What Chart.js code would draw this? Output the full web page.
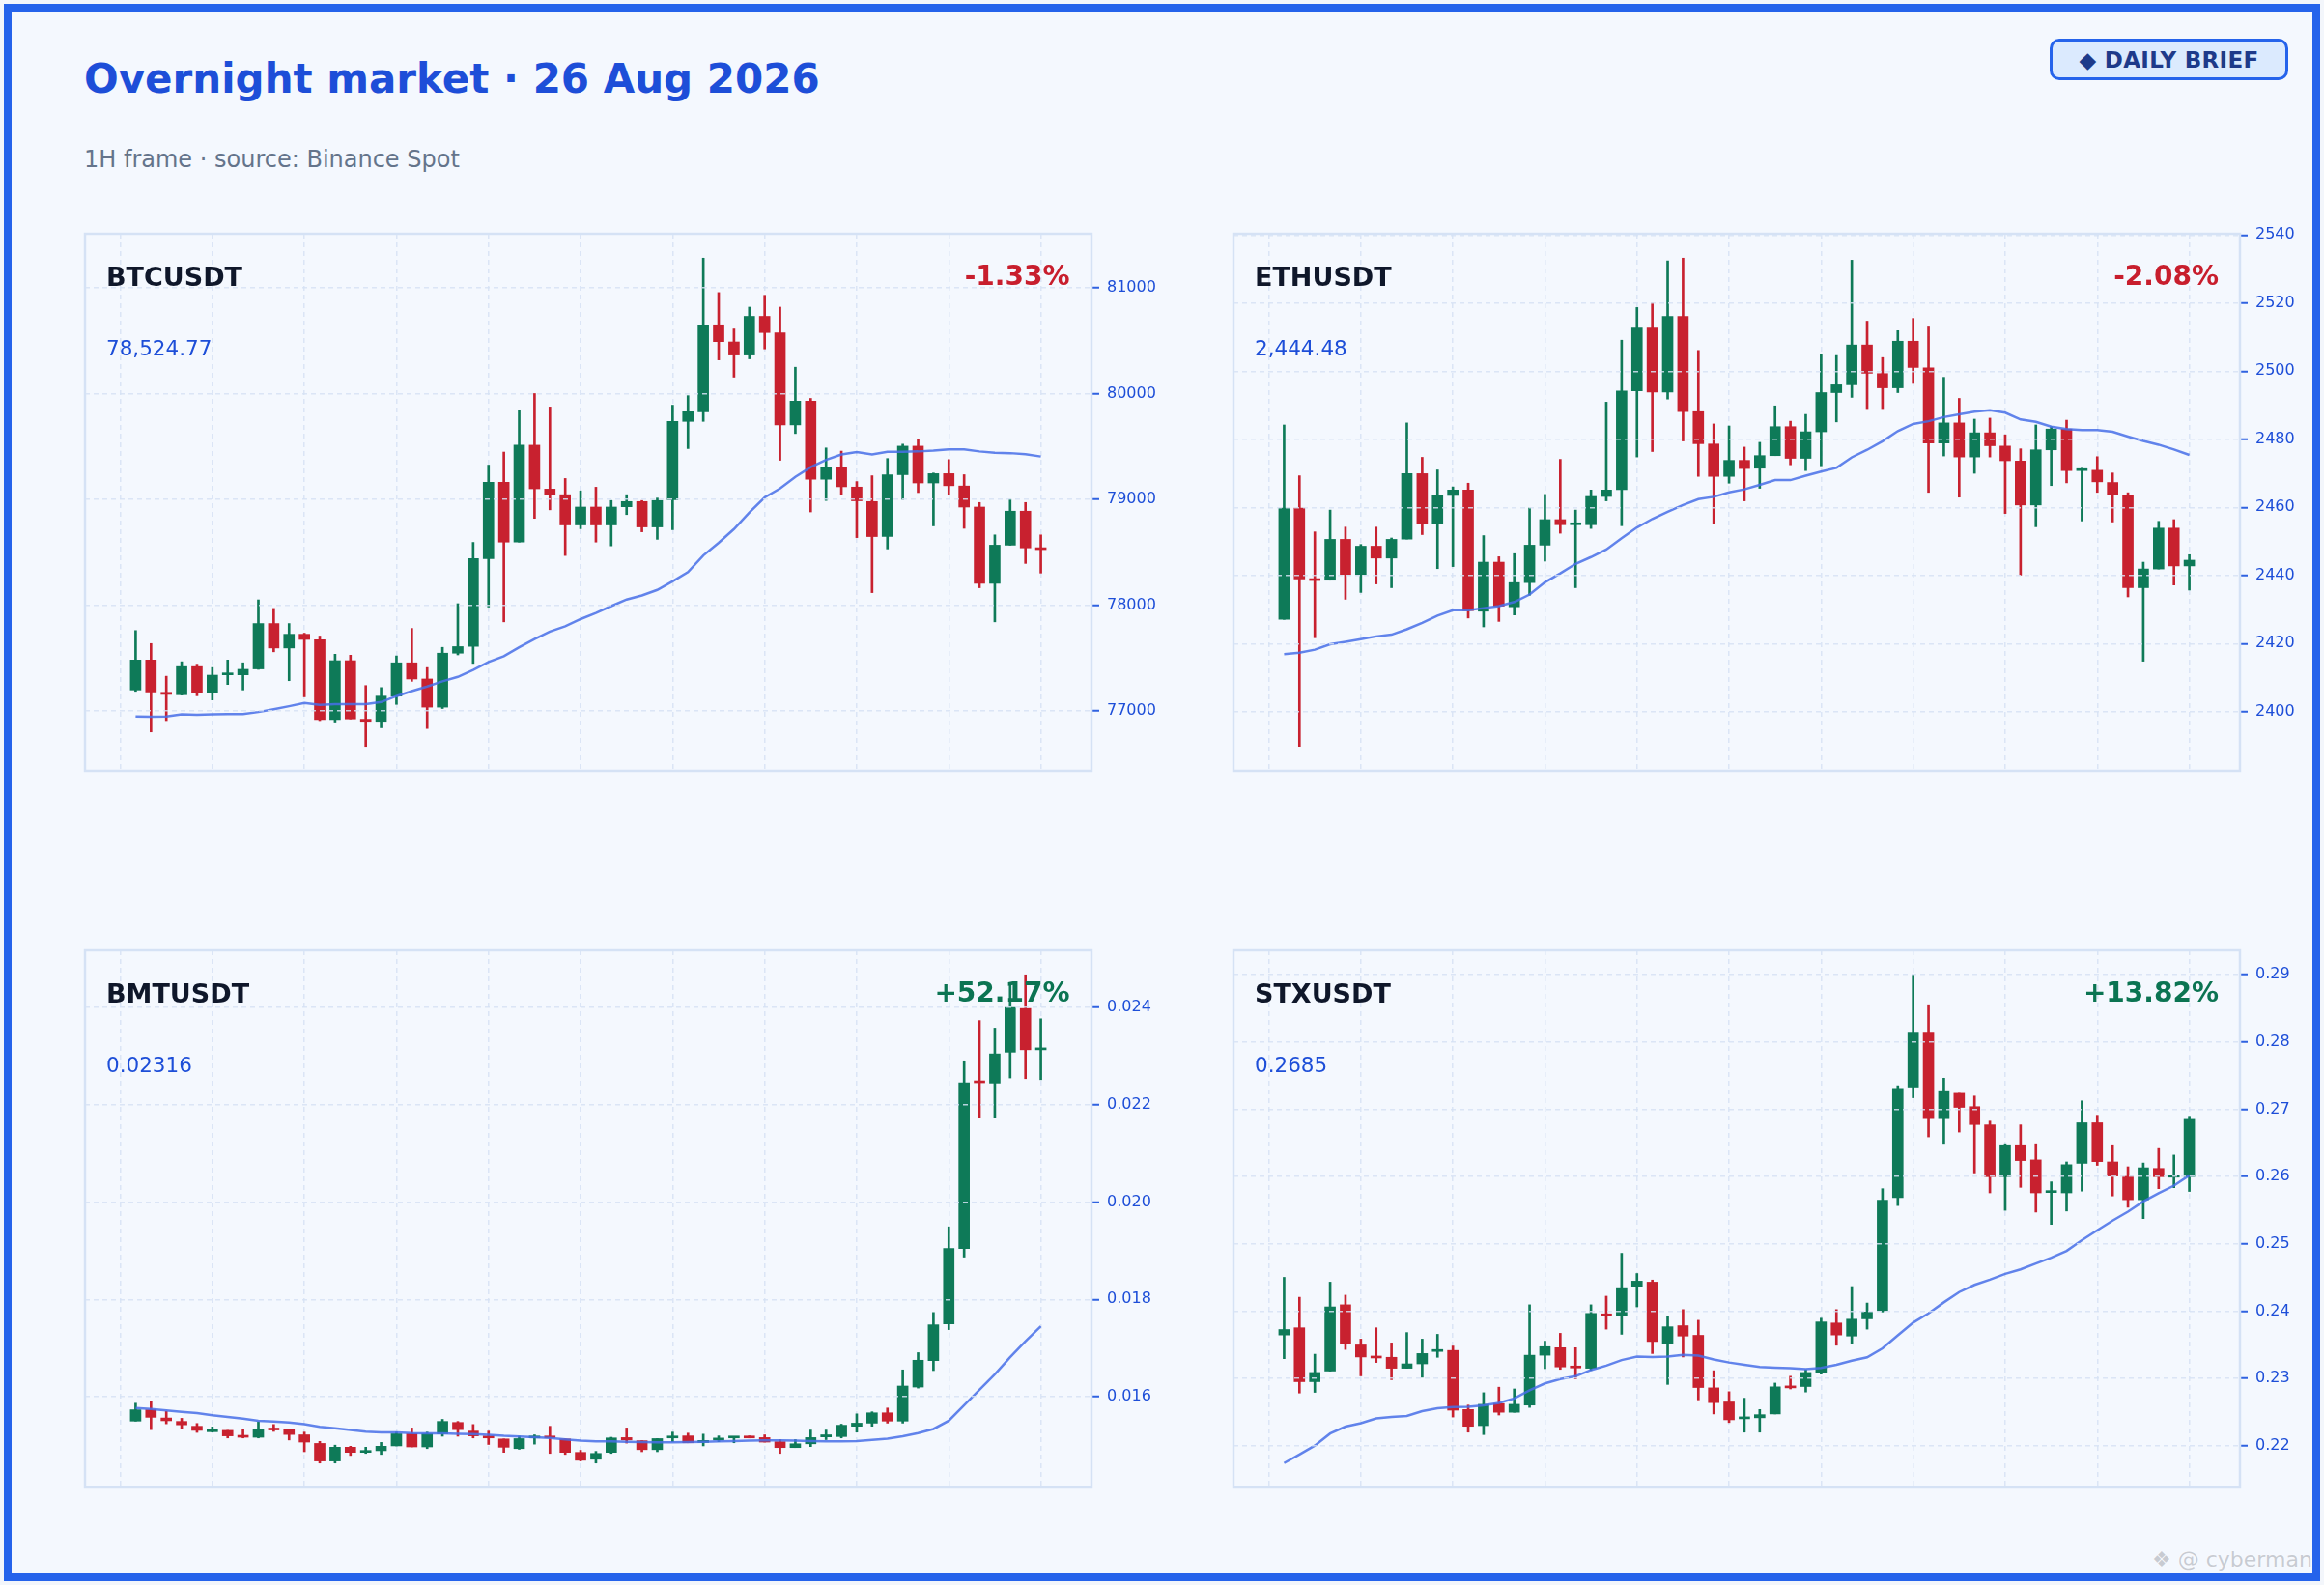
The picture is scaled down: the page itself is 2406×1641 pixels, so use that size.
<!DOCTYPE html>
<html><head><meta charset="utf-8">
<script src="https://cdn.jsdelivr.net/npm/chart.js@4.4.1/dist/chart.umd.min.js"></script>
<style>
html,body{margin:0;padding:0;background:#f3f6fb;width:2406px;height:1641px;overflow:hidden;font-family:"DejaVu Sans",sans-serif;}
#frame{position:absolute;left:4px;top:4px;width:2398px;height:1633px;box-sizing:border-box;border:8px solid #2563eb;background:#f4f8fe;}
.abs{position:absolute;white-space:nowrap;line-height:1;}
.title{font-weight:bold;font-size:42px;color:#1d4ed8;}
.sub{font-size:24px;color:#64748b;}
.badge{position:absolute;left:2122px;top:40px;width:247px;height:43px;box-sizing:border-box;border:3px solid #2563eb;border-radius:10px;background:#dbeafe;color:#1e3a8a;font-weight:bold;font-size:23px;display:flex;align-items:center;justify-content:center;letter-spacing:0.3px;}
.sym{font-weight:bold;font-size:27px;color:#0f172a;}
.price{font-size:21.5px;color:#1d4ed8;}
.pct{font-weight:bold;font-size:28px;}
.wm{font-size:22px;color:rgba(190,194,202,0.85);text-shadow:0 0 2px #fff;}
canvas{display:block;}
</style></head>
<body>
<div id="frame"></div>
<div class="abs title" style="left:87px;top:60.5px;">Overnight market · 26 Aug 2026</div>
<div class="abs sub" style="left:87px;top:152.7px;">1H frame · source: Binance Spot</div>
<div class="badge">◆ DAILY BRIEF</div>

<div class="abs" style="left:85px;top:218px;"><canvas id="cv0"></canvas></div>
<div class="abs" style="left:1274px;top:218px;"><canvas id="cv1"></canvas></div>
<div class="abs" style="left:85px;top:960px;"><canvas id="cv2"></canvas></div>
<div class="abs" style="left:1274px;top:960px;"><canvas id="cv3"></canvas></div>

<div class="abs sym" style="left:110px;top:273.2px;">BTCUSDT</div>
<div class="abs price" style="left:110px;top:350.4px;">78,524.77</div>
<div class="abs pct" style="right:1298.5px;top:272.3px;color:#c81e2d;">-1.33%</div>

<div class="abs sym" style="left:1299px;top:273.2px;">ETHUSDT</div>
<div class="abs price" style="left:1299px;top:350.4px;">2,444.48</div>
<div class="abs pct" style="right:109px;top:272.3px;color:#c81e2d;">-2.08%</div>

<div class="abs sym" style="left:110px;top:1015.2px;">BMTUSDT</div>
<div class="abs price" style="left:110px;top:1092.4px;">0.02316</div>
<div class="abs pct" style="right:1298.5px;top:1014.3px;color:#0b7452;">+52.17%</div>

<div class="abs sym" style="left:1299px;top:1015.2px;">STXUSDT</div>
<div class="abs price" style="left:1299px;top:1092.4px;">0.2685</div>
<div class="abs pct" style="right:109px;top:1014.3px;color:#0b7452;">+13.82%</div>

<div class="abs wm" style="left:2228px;top:1604px;">❖ @ cyberman</div>

<script>
// ---- categories (hourly candle index) ----
const candleIdx = [1,2,3,4,5,6,7,8,9,10,11,12,13,14,15,16,17,18,19,20,21,22,23,24,25,26,27,28,29,30,31,32,33,34,35,36,37,38,39,40,41,42,43,44,45,46,47,48,49,50,51,52,53,54,55,56,57,58,59,60];
const xGridTicks = [0,6,12,18,24,30,36,42,48,54,60];

// ---- BTCUSDT ----
const btcOpen = [77198,77481,77176,77153,77419,77169,77341,77341,77397,77826,77595,77725,77673,76919,77475,76922,76893,77140,77455,77302,77036,77546,77611,78440,79161,78596,79512,79097,79044,78758,78927,78758,78930,78979,78739,78996,79737,79828,80650,80488,80364,80730,80574,79704,79928,79190,79304,79116,78979,78648,79233,79503,79155,79243,79126,78927,78206,78567,78888,78535];
const btcClose = [77481,77179,77156,77419,77169,77338,77351,77393,77826,77595,77725,77676,76919,77475,76925,76893,77140,77455,77302,77036,77546,77608,78440,79161,78596,79512,79100,79047,78758,78927,78758,78927,78979,78739,78989,79737,79828,80650,80491,80364,80730,80577,79704,79928,79190,79304,79119,78986,78648,79233,79503,79155,79243,79129,78927,78206,78567,78888,78541,78524.77];
const btcHigh = [77760,77637,77328,77465,77442,77410,77481,77455,78050,77969,77826,77735,77708,77536,77527,77240,77221,77520,77780,77410,77601,78014,78593,79324,79447,79837,80000,79873,79197,79080,79115,78989,79044,78989,79012,79890,79980,81280,80955,80611,80817,80929,80817,80249,79954,79486,79456,79168,79223,79386,79522,79568,79249,79376,79233,78970,78664,78999,78970,78664];
const btcLow = [77185,76802,76909,77150,77143,77104,77250,77198,77393,77559,77286,77133,76909,76886,76925,76665,76841,77062,77280,76834,77023,77530,77449,77982,77842,78596,78820,78901,78469,78722,78596,78560,78856,78693,78622,78713,79480,79737,80318,80155,80328,80422,79369,79622,78881,78989,79044,78638,78118,78531,78999,79064,78749,79044,78726,78164,77842,78567,78394,78303];
const btcMA = [76948,76945,76948,76968,76964,76968,76971,76971,76990,77016,77045,77075,77058,77065,77065,77065,77084,77140,77188,77231,77280,77322,77387,77462,77517,77601,77679,77751,77800,77868,77926,77991,78053,78092,78144,78225,78313,78469,78589,78719,78875,79018,79103,79213,79304,79373,79424,79447,79424,79450,79450,79453,79460,79473,79473,79453,79440,79437,79427,79405];

// ---- ETHUSDT ----
const ethOpen = [2427.1,2459.8,2438.8,2438.6,2450.6,2440.3,2448.6,2445.1,2450.7,2469.9,2455.2,2463.5,2465.1,2429.5,2443.9,2430.8,2437.9,2448.9,2456.4,2454.9,2454.9,2463.2,2465.2,2494.2,2512.7,2493.9,2516.1,2488.1,2478.6,2469.1,2473.8,2471.5,2475.2,2483.7,2474.4,2482.2,2493.7,2496.0,2507.7,2499.3,2495.1,2508.8,2501.0,2478.9,2484.8,2474.8,2481.9,2478.0,2473.6,2460.7,2476.9,2483.0,2470.8,2470.9,2467.3,2463.4,2436.4,2441.9,2453.9,2442.8];
const ethClose = [2459.8,2439.0,2438.5,2450.6,2440.3,2448.6,2445.1,2450.6,2469.9,2455.2,2463.5,2465.1,2429.7,2443.9,2431.0,2437.9,2448.9,2456.4,2454.9,2455.2,2463.2,2465.1,2494.2,2512.7,2493.9,2516.1,2488.1,2478.7,2469.1,2473.8,2471.4,2475.2,2483.7,2474.4,2482.2,2493.7,2496.0,2507.7,2499.4,2495.1,2508.8,2501.1,2478.9,2484.8,2474.8,2481.9,2478.1,2473.7,2460.7,2476.9,2483.0,2470.8,2471.1,2467.5,2463.6,2436.4,2441.9,2453.9,2442.8,2444.48];
const ethHigh = [2484.2,2469.3,2452.8,2459.2,2454.2,2449.1,2454.2,2451.0,2484.8,2474.7,2471.0,2466.0,2467.1,2451.7,2445.5,2446.4,2459.8,2463.8,2474.1,2459.2,2465.1,2490.9,2509.1,2518.7,2520.0,2532.4,2533.2,2506.1,2484.5,2483.9,2477.7,2479.1,2489.8,2485.3,2487.3,2504.9,2504.6,2532.6,2514.7,2504.0,2511.9,2515.5,2513.0,2498.2,2492.0,2485.9,2486.2,2481.3,2477.2,2484.2,2483.7,2485.6,2471.5,2474.9,2470.1,2464.3,2443.9,2455.9,2456.4,2446.1];
const ethLow = [2427.1,2389.8,2421.7,2438.6,2433.0,2435.0,2437.5,2436.4,2450.7,2452.0,2442.0,2442.6,2427.5,2424.9,2426.5,2428.4,2434.2,2444.2,2452.4,2436.4,2453.8,2461.9,2454.6,2474.8,2476.4,2491.8,2479.5,2469.1,2455.2,2467.1,2461.9,2465.6,2475.2,2472.5,2470.8,2472.2,2485.1,2492.3,2489.0,2489.0,2493.7,2496.4,2464.4,2475.1,2463.0,2470.0,2474.8,2458.2,2440.1,2454.3,2466.4,2467.2,2456.0,2464.4,2455.7,2433.7,2414.8,2441.9,2437.2,2435.7];
const ethMA = [2416.9,2417.3,2418.2,2419.8,2420.5,2421.3,2422.1,2422.6,2424.2,2426.1,2428.2,2429.8,2429.8,2430.4,2431.0,2432.2,2434.4,2438.0,2440.6,2443.4,2445.4,2447.6,2450.9,2454.1,2456.6,2458.7,2460.7,2462.4,2463.1,2464.4,2465.3,2466.6,2468.0,2468.0,2469.3,2470.5,2471.6,2474.7,2476.9,2479.4,2482.4,2484.5,2485.3,2486.5,2487.3,2488.1,2488.5,2487.8,2485.8,2485.1,2483.7,2483.0,2482.7,2482.7,2482.2,2480.8,2479.5,2478.4,2477.0,2475.4];

// ---- BMTUSDT ----
const bmtOpen = [0.015498,0.015731,0.015562,0.015491,0.015392,0.015279,0.015307,0.015187,0.015166,0.015336,0.015329,0.015216,0.015039,0.014678,0.014961,0.014855,0.014890,0.014989,0.015237,0.014968,0.015237,0.015470,0.015293,0.015187,0.015131,0.014933,0.015152,0.015173,0.015131,0.014855,0.014714,0.014855,0.015159,0.015095,0.014912,0.015152,0.015194,0.015060,0.015110,0.015152,0.015173,0.015159,0.015074,0.014954,0.015032,0.015173,0.015180,0.015392,0.015456,0.015668,0.015498,0.016198,0.016742,0.017498,0.019046,0.022473,0.022445,0.023081,0.023979,0.023130];
const bmtClose = [0.015731,0.015576,0.015505,0.015421,0.015307,0.015300,0.015194,0.015166,0.015329,0.015315,0.015223,0.015067,0.014678,0.014961,0.014855,0.014876,0.014982,0.015237,0.014968,0.015237,0.015491,0.015322,0.015194,0.015152,0.014961,0.015138,0.015173,0.015152,0.014855,0.014693,0.014834,0.015152,0.015110,0.014912,0.015138,0.015173,0.015053,0.015081,0.015138,0.015173,0.015152,0.015067,0.014954,0.015032,0.015159,0.015216,0.015413,0.015456,0.015668,0.015498,0.016219,0.016749,0.017477,0.019046,0.022452,0.022452,0.023046,0.024000,0.023131,0.023160];
const bmtHigh = [0.015866,0.015908,0.015696,0.015555,0.015449,0.015378,0.015307,0.015329,0.015484,0.015428,0.015329,0.015272,0.015081,0.015004,0.014982,0.014961,0.015060,0.015272,0.015357,0.015272,0.015534,0.015491,0.015428,0.015293,0.015131,0.015187,0.015216,0.015392,0.015131,0.014898,0.014876,0.015166,0.015357,0.015095,0.015138,0.015272,0.015251,0.015230,0.015194,0.015173,0.015194,0.015216,0.015117,0.015117,0.015314,0.015314,0.015435,0.015647,0.015689,0.015767,0.016551,0.016905,0.017731,0.019491,0.022904,0.023731,0.023576,0.024509,0.024671,0.023767];
const bmtLow = [0.015498,0.015322,0.015442,0.015343,0.015265,0.015272,0.015152,0.015152,0.015152,0.015286,0.015110,0.014869,0.014636,0.014636,0.014792,0.014834,0.014813,0.014989,0.014968,0.014933,0.015187,0.015187,0.015152,0.015018,0.014855,0.014919,0.015025,0.014834,0.014813,0.014678,0.014636,0.014834,0.015046,0.014869,0.014869,0.015074,0.015053,0.014989,0.015074,0.015053,0.015152,0.015067,0.014834,0.014954,0.014975,0.015117,0.015152,0.015272,0.015392,0.015456,0.015456,0.016177,0.016537,0.017378,0.018869,0.021731,0.021731,0.022551,0.022537,0.022516];
const bmtMA = [0.015767,0.015746,0.015717,0.015689,0.015661,0.015618,0.015583,0.015548,0.015505,0.015491,0.015470,0.015435,0.015378,0.015350,0.015314,0.015279,0.015265,0.015265,0.015251,0.015244,0.015244,0.015237,0.015230,0.015216,0.015194,0.015180,0.015166,0.015152,0.015124,0.015095,0.015081,0.015081,0.015074,0.015067,0.015060,0.015060,0.015067,0.015074,0.015081,0.015088,0.015095,0.015103,0.015103,0.015095,0.015088,0.015081,0.015081,0.015088,0.015110,0.015138,0.015187,0.015251,0.015336,0.015505,0.015823,0.016141,0.016459,0.016813,0.017138,0.017449];

// ---- STXUSDT ----
const stxOpen = [0.23644,0.23751,0.22950,0.23108,0.24093,0.23496,0.23327,0.23312,0.23149,0.23215,0.23399,0.23414,0.22536,0.22296,0.22623,0.22495,0.22602,0.23343,0.23455,0.23169,0.23149,0.23945,0.23930,0.24369,0.24430,0.23516,0.23782,0.23639,0.22858,0.22648,0.22398,0.22413,0.22470,0.22873,0.22878,0.23077,0.23822,0.23628,0.23884,0.24006,0.25686,0.27330,0.28147,0.26860,0.27238,0.27039,0.26768,0.25997,0.26472,0.26247,0.25762,0.25757,0.26196,0.26799,0.26217,0.26002,0.25655,0.26120,0.25990,0.25997];
const stxClose = [0.23725,0.22950,0.23087,0.24062,0.23516,0.23317,0.23302,0.23149,0.23215,0.23368,0.23414,0.22526,0.22286,0.22613,0.22495,0.22613,0.23343,0.23470,0.23169,0.23154,0.23965,0.23930,0.24348,0.24445,0.23547,0.23766,0.23628,0.22863,0.22638,0.22383,0.22413,0.22459,0.22873,0.22858,0.23087,0.23838,0.23644,0.23879,0.23986,0.25650,0.27309,0.28147,0.26860,0.27263,0.27028,0.26773,0.25997,0.26472,0.26237,0.25757,0.25778,0.26176,0.26799,0.26222,0.26007,0.25655,0.26130,0.25997,0.26000,0.26850];
const stxHigh = [0.24501,0.24205,0.23358,0.24430,0.24236,0.23583,0.23751,0.23526,0.23680,0.23583,0.23654,0.23480,0.22602,0.22786,0.22868,0.22842,0.24093,0.23552,0.23669,0.23455,0.24093,0.24221,0.24859,0.24558,0.24461,0.23925,0.24022,0.23863,0.23113,0.22801,0.22704,0.22536,0.22929,0.23031,0.23128,0.23894,0.24022,0.24364,0.24119,0.25819,0.27350,0.28999,0.28555,0.27462,0.27238,0.27197,0.26824,0.26487,0.26768,0.26487,0.25921,0.26217,0.27125,0.26911,0.26472,0.26145,0.26201,0.26416,0.26319,0.26896];
const stxLow = [0.23292,0.22781,0.22791,0.23108,0.23429,0.23036,0.23235,0.22980,0.23149,0.23016,0.23312,0.22424,0.22199,0.22163,0.22454,0.22495,0.22567,0.23144,0.23133,0.22990,0.23118,0.23731,0.23654,0.24062,0.23368,0.22909,0.23317,0.22679,0.22470,0.22342,0.22199,0.22199,0.22470,0.22842,0.22796,0.23062,0.23491,0.23516,0.23731,0.23986,0.25568,0.27171,0.26589,0.26492,0.26661,0.26053,0.25757,0.25497,0.25839,0.25471,0.25288,0.25487,0.25783,0.26166,0.25711,0.25543,0.25374,0.25819,0.25834,0.25778];
const stxMA = [0.21740,0.21867,0.22000,0.22179,0.22281,0.22332,0.22403,0.22424,0.22439,0.22511,0.22556,0.22572,0.22577,0.22597,0.22633,0.22699,0.22822,0.22924,0.22990,0.23031,0.23123,0.23189,0.23271,0.23322,0.23317,0.23322,0.23348,0.23338,0.23281,0.23235,0.23200,0.23169,0.23159,0.23149,0.23138,0.23154,0.23200,0.23261,0.23312,0.23445,0.23639,0.23828,0.23965,0.24129,0.24282,0.24389,0.24466,0.24553,0.24619,0.24706,0.24792,0.24895,0.25053,0.25201,0.25344,0.25477,0.25630,0.25752,0.25865,0.26018];

// ---- y-axis tick steps / label decimals ----
const yStep = [1000, 20, 0.002, 0.01];
const yDecimals = [0, 0, 3, 2];

const UP = '#0e7a58', DOWN = '#c8212f';
const GRID = 'rgba(214,226,244,0.85)';
const PLOT_W = 1042, PLOT_H = 556, PADX = 3, PADY = 24, AXIS_W = 97;

const panelBorder = {
  id: 'panelBorder',
  afterDraw(chart) {
    const a = chart.chartArea, c = chart.ctx;
    c.save();
    c.strokeStyle = '#d5e2f5';
    c.lineWidth = 2.5;
    c.strokeRect(a.left, a.top, a.right - a.left, a.bottom - a.top);
    c.restore();
  }
};

function build(canvasId, o, h, l, cl, ma, k) {
  const cv = document.getElementById(canvasId);
  cv.width = PADX + PLOT_W + AXIS_W;
  cv.height = PLOT_H + 2 * PADY;
  cv.style.width = cv.width + 'px';
  cv.style.height = cv.height + 'px';
  const all = h.concat(l, ma);
  const hi = Math.max.apply(null, all), lo = Math.min.apply(null, all);
  const pad = (hi - lo) * 0.05;
  const cols = candleIdx.map((_, i) => cl[i] >= o[i] ? UP : DOWN);
  const st = yStep[k];
  new Chart(cv, {
    data: {
      datasets: [
        { type: 'line', data: candleIdx.map((x, i) => ({x, y: ma[i]})), borderColor: 'rgba(70,110,232,0.85)', borderWidth: 2.5, pointRadius: 0, tension: 0, order: 0 },
        { type: 'bar', data: candleIdx.map((x, i) => ({x, y: [o[i], cl[i]]})), backgroundColor: cols, barThickness: 11, minBarLength: 2, grouped: false, borderWidth: 0, order: 1 },
        { type: 'bar', data: candleIdx.map((x, i) => ({x, y: [l[i], h[i]]})), backgroundColor: cols, barThickness: 2, grouped: false, borderWidth: 0, order: 2 }
      ]
    },
    options: {
      responsive: false, maintainAspectRatio: false, animation: false, events: [],
      layout: { padding: { left: PADX, top: PADY, bottom: PADY, right: 0 } },
      plugins: { legend: { display: false }, tooltip: { enabled: false } },
      scales: {
        x: {
          type: 'linear', min: -2.3, max: 63.3, offset: false,
          afterBuildTicks: s => { s.ticks = xGridTicks.map(v => ({ value: v })); },
          afterFit: s => { s.height = 0; },
          ticks: { display: false },
          grid: { color: GRID, lineWidth: 1.5, z: 0, drawTicks: false, offset: false },
          border: { display: false, dash: [5, 4] }
        },
        y: {
          position: 'right', min: lo - pad, max: hi + pad,
          afterBuildTicks: s => {
            const t = [];
            for (let n = Math.ceil(s.min / st - 1e-9); n * st <= s.max + 1e-12; n++) t.push({ value: n * st });
            s.ticks = t;
          },
          afterFit: s => { s.width = AXIS_W; },
          border: { display: false, dash: [5, 4] },
          grid: { color: GRID, lineWidth: 1.5, z: 1, drawTicks: true, tickColor: '#2f62e0', tickLength: 8, tickWidth: 2, tickBorderDash: [] },
          ticks: { color: '#1d4ed8', padding: 8, font: { family: 'DejaVu Sans', size: 16 }, callback: v => Number(v).toFixed(yDecimals[k]) }
        }
      }
    },
    plugins: [panelBorder]
  });
}

build('cv0', btcOpen, btcHigh, btcLow, btcClose, btcMA, 0);
build('cv1', ethOpen, ethHigh, ethLow, ethClose, ethMA, 1);
build('cv2', bmtOpen, bmtHigh, bmtLow, bmtClose, bmtMA, 2);
build('cv3', stxOpen, stxHigh, stxLow, stxClose, stxMA, 3);
</script>
</body></html>
